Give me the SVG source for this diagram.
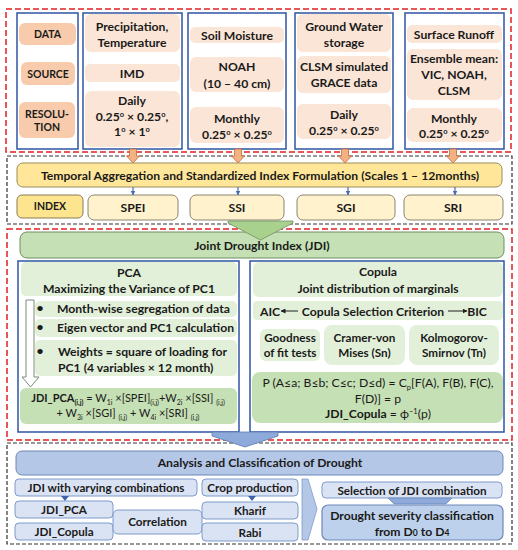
<svg xmlns="http://www.w3.org/2000/svg" width="518" height="550" viewBox="0 0 518 550">
<defs>
<marker id="tri" viewBox="0 0 10 10" refX="9" refY="5" markerWidth="5" markerHeight="5" orient="auto"><path d="M0,0 L10,5 L0,10 z" fill="#1f1f1f"/></marker>
<marker id="btri" viewBox="0 0 10 10" refX="9" refY="5" markerWidth="4" markerHeight="4" orient="auto"><path d="M0,0 L10,5 L0,10 z" fill="#4a6fb0"/></marker>
</defs>
<style>
text{font-family:Lato,"Open Sans","Liberation Sans",sans-serif;font-weight:bold;font-size:12.2px;fill:#1a1a1a;text-anchor:middle}
.n{font-weight:normal}
.s{font-size:10.5px}
.b{font-size:11.7px}
.f{font-size:11px}
.st{text-anchor:start}
.red{fill:none;stroke:#e02020;stroke-width:1.5;stroke-dasharray:6,3}
.blk{fill:none;stroke:#333;stroke-width:1.2;stroke-dasharray:4,2}
.bb{fill:#fff;stroke:#2f55a4;stroke-width:1.5}
.lab{fill:#f7cbac}
.dat{fill:#fbe5d6}
.yb{fill:#ffe699;stroke:#9b8c5a;stroke-width:1}
.ix{fill:#fde58f;stroke:#8a7d55;stroke-width:1}
.iy{fill:#fff2cc;stroke:#8a8470;stroke-width:1}
.gb{fill:#c5e0b4;stroke:#6f8f60;stroke-width:1}
.gl{fill:#e2f0d9}
.gf{fill:#c5e0b4}
.ab{fill:#b4c7e7;stroke:#6d87b8;stroke-width:1}
.lb{fill:#dae3f3;stroke:#7f9acb;stroke-width:1}
.db{fill:#bdd1ec;stroke:#6d87b8;stroke-width:1.2}
.oa{fill:#f4b183;stroke:#c0703a;stroke-width:0.8}
</style>

<!-- section frames -->
<rect class="red" x="6" y="9" width="505" height="143"/>
<rect class="blk" x="7" y="156" width="505" height="68"/>
<rect class="red" x="7" y="229" width="505" height="211"/>
<rect class="blk" x="7" y="443" width="505" height="101"/>

<g id="labels">
<rect class="bb" x="17" y="13" width="61" height="136"/>
<rect class="lab" x="19" y="23" width="57" height="22" rx="6"/>
<rect class="lab" x="21" y="62" width="54" height="23" rx="6"/>
<rect class="lab" x="19" y="102" width="56" height="36" rx="6"/>
<text class="s" x="47.5" y="38">DATA</text>
<text class="s" x="48" y="78">SOURCE</text>
<text class="s" x="47" y="118">RESOLU-</text>
<text class="s" x="47" y="131">TION</text>
</g>

<g id="col-precip">
<rect class="bb" x="83" y="13" width="99" height="136"/>
<rect class="dat" x="85" y="14" width="95" height="38" rx="6"/>
<rect class="dat" x="85" y="64" width="95" height="18" rx="5"/>
<rect class="dat" x="85" y="91" width="95" height="56" rx="6"/>
<text x="132" y="31">Precipitation,</text>
<text x="132" y="46.5">Temperature</text>
<text x="132" y="77.5">IMD</text>
<text x="132" y="104.5">Daily</text>
<text x="132" y="120.5">0.25<tspan font-size="7.5" dy="-4">o</tspan><tspan dy="4"> × 0.25</tspan><tspan font-size="7.5" dy="-4">o</tspan><tspan dy="4">,</tspan></text>
<text x="132" y="135.5">1<tspan font-size="7.5" dy="-4">o</tspan><tspan dy="4"> × 1</tspan><tspan font-size="7.5" dy="-4">o</tspan></text>
</g>

<g id="col-soil">
<rect class="bb" x="188" y="13" width="98" height="136"/>
<rect class="dat" x="190" y="27" width="94" height="16" rx="5"/>
<rect class="dat" x="190" y="57" width="94" height="35" rx="6"/>
<rect class="dat" x="190" y="107" width="94" height="36" rx="6"/>
<text x="237" y="39.5">Soil Moisture</text>
<text x="237" y="70.5">NOAH</text>
<text x="237" y="87.5">(10 – 40 cm)</text>
<text x="237" y="122.5">Monthly</text>
<text x="237" y="138.5">0.25<tspan font-size="7.5" dy="-4">o</tspan><tspan dy="4"> × 0.25</tspan><tspan font-size="7.5" dy="-4">o</tspan></text>
</g>

<g id="col-gw">
<rect class="bb" x="295" y="13" width="98" height="136"/>
<rect class="dat" x="297" y="14" width="94" height="38" rx="6"/>
<rect class="dat" x="297" y="56" width="94" height="37" rx="6"/>
<rect class="dat" x="297" y="104" width="94" height="35" rx="6"/>
<text x="344" y="30.5">Ground Water</text>
<text x="344" y="46.5">storage</text>
<text x="344" y="70.5">CLSM simulated</text>
<text x="344" y="86.5">GRACE data</text>
<text x="344" y="118.5">Daily</text>
<text x="344" y="134.5">0.25<tspan font-size="7.5" dy="-4">o</tspan><tspan dy="4"> × 0.25</tspan><tspan font-size="7.5" dy="-4">o</tspan></text>
</g>

<g id="col-runoff">
<rect class="bb" x="405" y="13" width="99" height="136"/>
<rect class="dat" x="407" y="25" width="95" height="18" rx="5"/>
<rect class="dat" x="407" y="49" width="95" height="51" rx="6"/>
<rect class="dat" x="407" y="108" width="95" height="34" rx="6"/>
<text x="454" y="38.5">Surface Runoff</text>
<text x="454" y="62.5">Ensemble mean:</text>
<text x="454" y="78.5">VIC, NOAH,</text>
<text x="454" y="94.5">CLSM</text>
<text x="454" y="122.5">Monthly</text>
<text x="454" y="137.5">0.25<tspan font-size="7.5" dy="-4">o</tspan><tspan dy="4"> × 0.25</tspan><tspan font-size="7.5" dy="-4">o</tspan></text>
</g>

<g id="temporal">
<rect class="yb" x="17" y="163" width="485" height="24" rx="6"/>
<text x="260" y="179.5">Temporal Aggregation and Standardized Index Formulation (Scales 1 – 12months)</text>
</g>

<g id="indices">
<rect class="ix" x="17" y="195" width="66" height="23" rx="5"/>
<text class="s" x="50" y="210">INDEX</text>
<rect class="iy" x="88" y="195" width="90" height="25" rx="6"/>
<text x="133" y="211.5">SPEI</text>
<rect class="iy" x="190" y="195" width="94" height="25" rx="6"/>
<text x="237" y="211.5">SSI</text>
<rect class="iy" x="297" y="195" width="98" height="25" rx="6"/>
<text x="346" y="211.5">SGI</text>
<rect class="iy" x="404" y="195" width="99" height="25" rx="6"/>
<text x="453" y="211.5">SRI</text>
</g>

<g id="jdi">
<rect class="gb" x="20" y="232" width="484" height="26" rx="7"/>
<text x="262" y="249.5" font-size="12.8">Joint Drought Index (JDI)</text>
</g>

<g id="pca">
<rect class="bb" x="18" y="261" width="221" height="171"/>
<rect class="gl" x="21" y="262" width="216" height="34" rx="5"/>
<text x="129" y="276.5">PCA</text>
<text x="129" y="292.5">Maximizing the Variance of PC1</text>
<rect class="gl" x="35" y="301" width="202" height="16" rx="5"/>
<rect class="gl" x="35" y="319" width="202" height="18" rx="5"/>
<rect class="gl" x="35" y="340" width="202" height="36" rx="5"/>
<text x="40" y="312" font-size="10">•</text>
<text x="40" y="331" font-size="10">•</text>
<text x="40" y="355" font-size="10">•</text>
<text class="st" x="57" y="312.5">Month-wise segregation of data</text>
<text class="st" x="57" y="331.5">Eigen vector and PC1 calculation</text>
<text class="st" x="58" y="355.5">Weights = square of loading for</text>
<text class="st" x="58" y="371.5">PC1 (4 variables × 12 month)</text>
<rect class="gf" x="20" y="388" width="217" height="36" rx="6"/>
<text class="f" x="128" y="402"><tspan>JDI_PCA</tspan><tspan font-size="7" dy="3">(i,j)</tspan><tspan class="n" dy="-3"> = W</tspan><tspan class="n" font-size="7" dy="3">1i</tspan><tspan class="n" dy="-3"> ×[SPEI]</tspan><tspan class="n" font-size="7" dy="3">(i,j)</tspan><tspan class="n" dy="-3">+W</tspan><tspan class="n" font-size="7" dy="3">2i</tspan><tspan class="n" dy="-3"> ×[SSI] </tspan><tspan class="n" font-size="7" dy="3">(i,j)</tspan></text>
<text class="n f" x="128" y="417"><tspan>+ W</tspan><tspan font-size="7" dy="3">3i</tspan><tspan dy="-3"> ×[SGI] </tspan><tspan font-size="7" dy="3">(i,j)</tspan><tspan dy="-3">  + W</tspan><tspan font-size="7" dy="3">4i</tspan><tspan dy="-3"> ×[SRI] </tspan><tspan font-size="7" dy="3">(i,j)</tspan></text>
</g>

<g id="copula">
<rect class="bb" x="250" y="261" width="254" height="171"/>
<rect class="gl" x="253" y="262" width="250" height="35" rx="6"/>
<text x="378" y="275.5">Copula</text>
<text x="378" y="292.5">Joint distribution of marginals</text>
<rect class="gl" x="253" y="301" width="250" height="19" rx="4"/>
<text x="270" y="315.5">AIC</text>
<text x="373" y="315.5" font-size="11.8">Copula Selection Criterion</text>
<text x="477" y="315.5">BIC</text>
<rect class="gl" x="260" y="329" width="60" height="32" rx="6"/>
<text class="b" x="290" y="342">Goodness</text>
<text class="b" x="290" y="357">of fit tests</text>
<rect class="gl" x="324" y="325" width="81" height="40" rx="8"/>
<text class="b" x="364.5" y="342">Cramer-von</text>
<text class="b" x="364.5" y="357">Mises (Sn)</text>
<rect class="gl" x="409" y="325" width="90" height="40" rx="8"/>
<text class="b" x="454" y="342">Kolmogorov-</text>
<text class="b" x="454" y="357">Smirnov (Tn)</text>
<rect class="gf" x="252" y="372" width="251" height="51" rx="8"/>
<text class="n" x="378" y="386.5">P (A≤a; B≤b; C≤c; D≤d) = C<tspan font-size="7.5" dy="3">p</tspan><tspan dy="-3">[F(A), F(B), F(C),</tspan></text>
<text class="n" x="378" y="402.5">F(D)] = p</text>
<text class="n" x="378" y="417.5"><tspan font-weight="bold">JDI_Copula</tspan> = ϕ<tspan font-size="7.5" dy="-4">−1</tspan><tspan dy="4">(p)</tspan></text>
</g>

<g id="analysis">
<rect class="ab" x="16" y="451" width="487" height="24" rx="6"/>
<text x="260" y="467">Analysis and Classification of Drought</text>
</g>

<g id="jdi-combos">
<rect class="lb" x="15" y="479" width="182" height="17" rx="4"/>
<text class="b" x="106" y="492">JDI with varying combinations</text>
</g>
<g id="crop">
<rect class="lb" x="202" y="479" width="96" height="17" rx="4"/>
<text class="b" x="250" y="492">Crop production</text>
</g>
<g id="jdi-pca">
<rect class="lb" x="15" y="501" width="98" height="17" rx="4"/>
<text class="b" x="64" y="514">JDI_PCA</text>
</g>
<g id="jdi-copula">
<rect class="lb" x="15" y="523" width="98" height="17" rx="4"/>
<text class="b" x="64" y="536">JDI_Copula</text>
</g>
<g id="correlation">
<rect class="lb" x="113" y="510" width="89" height="24" rx="5"/>
<text class="b" x="157.5" y="526">Correlation</text>
</g>
<g id="kharif">
<rect class="lb" x="202" y="502" width="96" height="17" rx="4"/>
<text class="b" x="250" y="515">Kharif</text>
</g>
<g id="rabi">
<rect class="lb" x="202" y="523" width="96" height="18" rx="4"/>
<text class="b" x="250" y="536.5">Rabi</text>
</g>
<g id="selection">
<rect class="lb" x="322" y="482" width="180" height="16" rx="4"/>
<text class="b" x="412" y="494.5">Selection of JDI combination</text>
</g>
<g id="severity">
<rect class="db" x="322" y="505" width="181" height="35" rx="6"/>
<text x="412" y="519.5">Drought severity classification</text>
<text x="412" y="535.5">from D<tspan font-size="8.5">0</tspan> to D<tspan font-size="8.5">4</tspan></text>
</g>

<g id="connectors">
<polygon class="oa" points="129.5,149 136.5,149 136.5,156 139.5,156 133,163 126.5,156 129.5,156"/>
<polygon class="oa" points="234.5,149 241.5,149 241.5,156 244.5,156 238,163 231.5,156 234.5,156"/>
<polygon class="oa" points="341.5,149 348.5,149 348.5,156 351.5,156 345,163 338.5,156 341.5,156"/>
<polygon class="oa" points="449.5,149 456.5,149 456.5,156 459.5,156 453,163 446.5,156 449.5,156"/>
<g stroke="#4a6fb0" stroke-width="1.2" marker-end="url(#btri)">
<line x1="133" y1="187" x2="133" y2="195"/>
<line x1="238" y1="187" x2="238" y2="195"/>
<line x1="348" y1="187" x2="348" y2="195"/>
<line x1="455" y1="187" x2="455" y2="195"/>
</g>
<polygon points="228,221 293,221 293,223 260.5,240 228,223" fill="#a9d18e" stroke="#6f8f60" stroke-width="0.8"/>
<polygon points="26,300 34,300 34,377 39,377 30.5,387 22,377 26,377" fill="#fff" stroke="#7c8c78" stroke-width="1"/>
<line x1="298" y1="311" x2="281" y2="311" stroke="#1f1f1f" stroke-width="1" marker-end="url(#tri)"/>
<line x1="448" y1="311" x2="467" y2="311" stroke="#1f1f1f" stroke-width="1" marker-end="url(#tri)"/>
<polygon points="212,432 278,432 278,436 245,447 212,436" fill="#8eaadb" stroke="#5d7bb3" stroke-width="0.8"/>
<polygon points="61,496 69,496 65,501" fill="#3d62a8"/>
<polygon points="248,496 256,496 252,501" fill="#3d62a8"/>
<polygon points="302,479 308,479 317,509 308,540 302,540" fill="#b4c7e7" stroke="#7f9acb" stroke-width="0.8"/>
<polygon points="388,498 452,498 446,504 394,504" fill="#8eaadb" stroke="#5d7bb3" stroke-width="0.6"/>
</g>
</svg>
